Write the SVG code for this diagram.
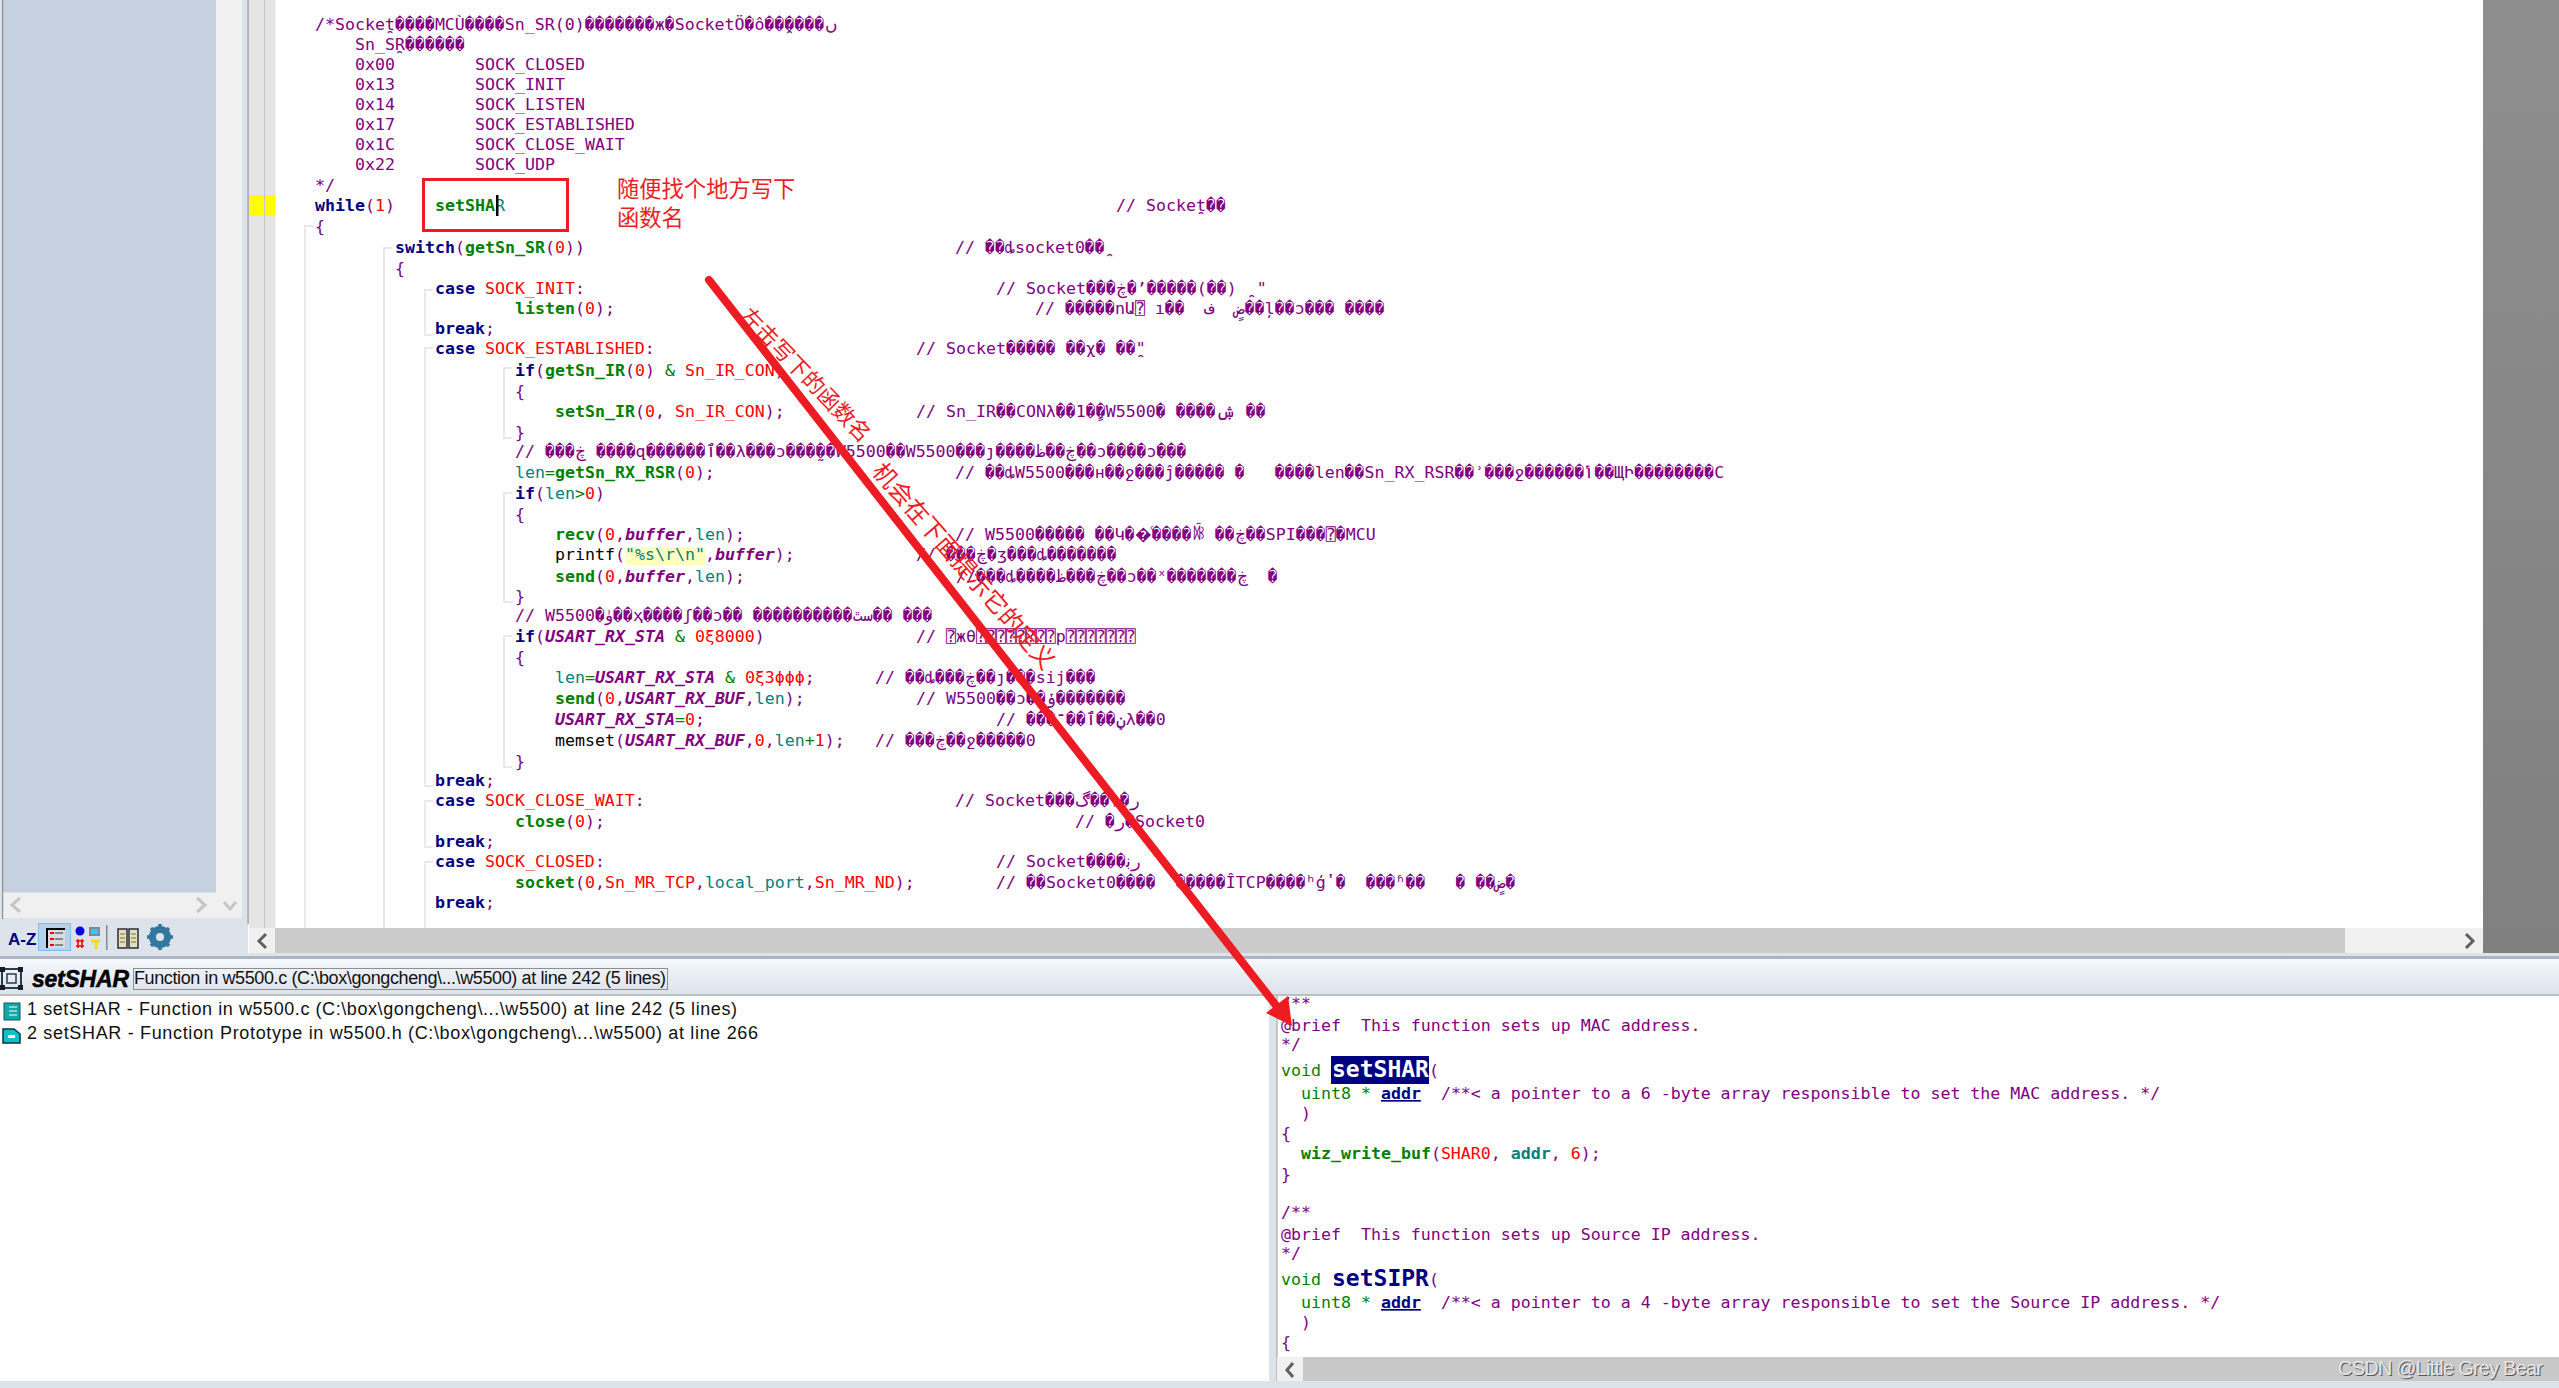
<svg xmlns="http://www.w3.org/2000/svg" width="2559" height="1388" viewBox="0 0 2559 1388">
<defs>
<linearGradient id="hdr" x1="0" y1="0" x2="0" y2="1"><stop offset="0" stop-color="#f5f8fc"/><stop offset="1" stop-color="#dbe2ea"/></linearGradient>
<linearGradient id="side" x1="0" y1="0" x2="0" y2="1"><stop offset="0" stop-color="#8e8e8e"/><stop offset="1" stop-color="#808080"/></linearGradient>
</defs>
<style>
text{white-space:pre}
.t{font-family:"DejaVu Sans Mono","Liberation Mono",monospace;font-size:16.6px;fill:#800080;unicode-bidi:bidi-override;direction:ltr}
.k{fill:#000080;font-weight:bold}
.f{fill:#008000;font-weight:bold}
.m{fill:#ff0000}
.v{fill:#008080}
.o{fill:#008000}
.g{fill:#800080;font-weight:bold;font-style:italic}
.b{fill:#000000}
.d{fill:#000080}
.guide{stroke:#e2e2e2;stroke-width:1.5;fill:none}
.ui{font-family:"Liberation Sans",Arial,sans-serif;font-size:18px;fill:#111111}
.note{font-family:"Noto Sans CJK SC",sans-serif;fill:#ed1c24;font-weight:400}
.chev{fill:none;stroke-width:3}
</style>
<rect width="2559" height="1388" fill="#ffffff"/>
<g id="left-panel">
<rect x="0" y="0" width="248" height="957" fill="#dce3eb"/>
<rect x="3" y="0" width="213" height="892" fill="#c5d1de"/>
<rect x="216" y="0" width="26" height="918" fill="#f0f0f0"/>
<rect x="3" y="893" width="213" height="25" fill="#f0f0f0"/>
<rect x="2" y="0" width="1.2" height="919" fill="#8a8f96"/>
<rect x="247.5" y="0" width="1.2" height="924" fill="#8a8f96"/>
<path class="chev" stroke="#c6c6c6" d="M20 898l-8 7 8 7M197 898l8 7-8 7M224 902l6 7 6-7"/>
</g>
<g id="toolbar">
<text x="8" y="945" font-family="Liberation Sans,sans-serif" font-weight="bold" font-size="17" fill="#000080">A-Z</text>
<rect x="38.500" y="923.500" width="32" height="27" fill="#b4d2ec" stroke="#82bbee"/>
<path d="M46 928h19v20h-19z" fill="#d8dde2"/><path d="M46 928h19v2h-17v18h-2z" fill="#000"/>
<path d="M50 933h4M50 939h4M50 945h4" stroke="#f00" stroke-width="2"/><path d="M55 933h8M55 939h8M55 945h8" stroke="#888" stroke-width="2"/>
<circle cx="80" cy="931" r="4.500" fill="#0000e0"/>
<rect x="89" y="927" width="11" height="9" fill="#808890"/><rect x="91" y="929" width="7" height="5" fill="#22d4e0"/>
<path d="M78 939v9M82 939v9M76 941h8M76 946h8" stroke="#f00" stroke-width="1.500"/>
<path d="M91 941h9M96 941v8" stroke="#f0e000" stroke-width="2.500"/>
<rect x="106" y="925" width="1.500" height="25" fill="#888"/>
<path d="M118 929h9v19h-9zM129 929h9v19h-9z" fill="#e6e0b8" stroke="#2b2b3a" stroke-width="1.500"/>
<path d="M120 934h5M120 938h5M120 942h5M131 934h5M131 938h5M131 942h5" stroke="#9c9468" stroke-width="1.500"/>
<circle cx="160" cy="937" r="8" fill="none" stroke="#33779f" stroke-width="6"/>
<path d="M160 924v26M147 937h26M151 928l18 18M169 928l-18 18" stroke="#33779f" stroke-width="3.500"/>
<circle cx="160" cy="937" r="4" fill="#dce3eb"/>
</g>
<g id="editor-frame">
<rect x="249" y="0" width="26.500" height="928" fill="#e5e5e5"/>
<rect x="264" y="0" width="1" height="928" fill="#c4c4c4"/>
<rect x="249" y="195" width="15" height="21" fill="#ffff00"/><rect x="265" y="195" width="10.500" height="21" fill="#ffff00"/>
<rect x="2483" y="0" width="76" height="953" fill="url(#side)"/>
<rect x="249" y="928" width="26" height="25" fill="#f0f0f0"/>
<rect x="275" y="928" width="2070" height="25" fill="#cbcbcb"/>
<rect x="2345" y="928" width="138" height="25" fill="#f0f0f0"/>
<path class="chev" stroke="#606060" d="M266 934l-7 7 7 7M2466 934l7 7-7 7"/>
<rect x="0" y="953" width="2559" height="6" fill="#dce3eb"/>
<rect x="0" y="956" width="2559" height="3" fill="#aeb5c2"/>
<rect x="0" y="959" width="2559" height="36" fill="url(#hdr)"/>
<rect x="0" y="994.500" width="2559" height="1.200" fill="#a0a0a0"/>
<rect x="1269" y="996" width="8" height="385" fill="#dce3eb"/>
<rect x="1276.500" y="996" width="1" height="385" fill="#9a9a9a"/>
<rect x="1277" y="1357" width="26" height="24" fill="#f0f0f0"/>
<rect x="1303" y="1357" width="1256" height="24" fill="#c8c8c8"/>
<path class="chev" stroke="#606060" d="M1293 1363l-6 7 6 7"/>
<rect x="0" y="1381" width="2559" height="7" fill="#dce3eb"/>
</g>
<g id="indent-guides">
<path class="guide" d="M313 226h-8v702M392 248h-8v680M433 290h-8v45h8M433 348h-8v438h8M433 801h-8v46h8M433 862h-8v66M512 368h-8v70h8M512 493h-8v109h8M512 636h-8v131h8"/>
</g>
<g id="code-editor">
<rect x="625" y="547" width="80" height="18" fill="#ffffc0"/>
<text class="t" x="315" y="30">/*Socket̯����MCÙ����Sn_SR(0)�������ж�SocketÖ�ô��̯����ں</text>
<text class="t" x="355" y="50">Sn_SR̯������</text>
<text class="t" x="355" y="70">0x00</text><text class="t" x="475" y="70">SOCK_CLOSED</text>
<text class="t" x="355" y="90">0x13</text><text class="t" x="475" y="90">SOCK_INIT</text>
<text class="t" x="355" y="110">0x14</text><text class="t" x="475" y="110">SOCK_LISTEN</text>
<text class="t" x="355" y="130">0x17</text><text class="t" x="475" y="130">SOCK_ESTABLISHED</text>
<text class="t" x="355" y="150">0x1C</text><text class="t" x="475" y="150">SOCK_CLOSE_WAIT</text>
<text class="t" x="355" y="170">0x22</text><text class="t" x="475" y="170">SOCK_UDP</text>
<text class="t" x="315" y="191">*/</text>
<text class="t" x="315" y="211"><tspan class="k">while</tspan>(<tspan class="m">1</tspan>)</text>
<text class="t" x="435" y="211"><tspan class="f">setSHA</tspan><tspan class="v">R</tspan></text>
<rect x="496" y="195" width="2.500" height="21" fill="#000"/>
<text class="t" x="1116" y="211">// Socket̯��</text>
<text class="t" x="315" y="232">{</text>
<text class="t" x="395" y="253"><tspan class="k">switch</tspan>(<tspan class="f">getSn_SR</tspan>(<tspan class="m">0</tspan>))</text>
<text class="t" x="955" y="253">// ��ȡsocket0��̯</text>
<text class="t" x="395" y="274">{</text>
<text class="t" x="435" y="294"><tspan class="k">case</tspan> <tspan class="m">SOCK_INIT</tspan>:</text>
<text class="t" x="996" y="294">// Socket���ڿ�’�����(��)  ̯"</text>
<text class="t" x="515" y="314"><tspan class="f">listen</tspan>(<tspan class="m">0</tspan>);</text>
<text class="t" x="1035" y="314">// �����nԱ⍰ ı��  ﻑ  ضٍ��ļ��ɔ��� ����</text>
<text class="t" x="435" y="334"><tspan class="k">break</tspan>;</text>
<text class="t" x="435" y="354"><tspan class="k">case</tspan> <tspan class="m">SOCK_ESTABLISHED</tspan>:</text>
<text class="t" x="916" y="354">// Socket����� ��χ� ��̯"</text>
<text class="t" x="515" y="376"><tspan class="k">if</tspan>(<tspan class="f">getSn_IR</tspan>(<tspan class="m">0</tspan>) <tspan class="o">&amp;</tspan> <tspan class="m">Sn_IR_CON</tspan>)</text>
<text class="t" x="515" y="397">{</text>
<text class="t" x="555" y="417"><tspan class="f">setSn_IR</tspan>(<tspan class="m">0</tspan>, <tspan class="m">Sn_IR_CON</tspan>);</text>
<text class="t" x="916" y="417">// Sn_IR��CONλ��1��ٍW5500� ����ۺ ��</text>
<text class="t" x="515" y="438">}</text>
<text class="t" x="515" y="457">// ���ڿ ����զ������ٱ��λ���ɔ���̰��W5500��W5500���ȷ����ظ��ڿ��ɔ����ɔ���</text>
<text class="t" x="515" y="478"><tspan class="v">len</tspan><tspan class="o">=</tspan><tspan class="f">getSn_RX_RSR</tspan>(<tspan class="m">0</tspan>);</text>
<text class="t" x="955" y="478">// ��ȡW5500���н��ջ���ĵ����� �   ����len��Sn_RX_RSR��ʾ���ջ������ݴ��ЩԻ��������C</text>
<text class="t" x="515" y="499"><tspan class="k">if</tspan>(<tspan class="v">len</tspan><tspan class="o">&gt;</tspan><tspan class="m">0</tspan>)</text>
<text class="t" x="515" y="520">{</text>
<text class="t" x="555" y="540"><tspan class="f">recv</tspan>(<tspan class="m">0</tspan>,<tspan class="g">buffer</tspan>,<tspan class="v">len</tspan>);</text>
<text class="t" x="955" y="540">// W5500����� ��Կ��ͨ����ꐼ ��ڿ��SPI���⍰�MCU</text>
<text class="t" x="555" y="560"><tspan class="b">printf</tspan>(<tspan class="v">"%s\r\n"</tspan>,<tspan class="g">buffer</tspan>);</text>
<text class="t" x="916" y="560">// ���ڿ�ʒ���ȡ�������</text>
<text class="t" x="555" y="582"><tspan class="f">send</tspan>(<tspan class="m">0</tspan>,<tspan class="g">buffer</tspan>,<tspan class="v">len</tspan>);</text>
<text class="t" x="956" y="582">//���ȡ����ظ���ڿ��ɔ��ˣ�������ڿ  �</text>
<text class="t" x="515" y="602">}</text>
<text class="t" x="515" y="621">// W5500�ۈ��ҳ����ʃ��ɔ�� ����������ٿس�� ���</text>
<text class="t" x="515" y="642"><tspan class="k">if</tspan>(<tspan class="g">USART_RX_STA</tspan> <tspan class="o">&amp;</tspan> <tspan class="m">0ξ8000</tspan>)</text>
<text class="t" x="916" y="642">// ⍰жθ⍰⍰⍰⍰⍰⍰⍰⍰p⍰⍰⍰⍰⍰⍰⍰</text>
<text class="t" x="515" y="663">{</text>
<text class="t" x="555" y="683"><tspan class="v">len</tspan><tspan class="o">=</tspan><tspan class="g">USART_RX_STA</tspan> <tspan class="o">&amp;</tspan> <tspan class="m">0ξ3ϕϕϕ</tspan>;</text>
<text class="t" x="875" y="683">// ��ȡ���ڿ��ȷ���sij���</text>
<text class="t" x="555" y="704"><tspan class="f">send</tspan>(<tspan class="m">0</tspan>,<tspan class="g">USART_RX_BUF</tspan>,<tspan class="v">len</tspan>);</text>
<text class="t" x="916" y="704">// W5500��ɔ��ݸ�������</text>
<text class="t" x="555" y="725"><tspan class="g">USART_RX_STA</tspan><tspan class="o">=</tspan><tspan class="m">0</tspan>;</text>
<text class="t" x="996" y="725">// ���־��ٱ��ڼλ��0</text>
<text class="t" x="555" y="746"><tspan class="b">memset</tspan>(<tspan class="g">USART_RX_BUF</tspan>,<tspan class="m">0</tspan>,<tspan class="v">len</tspan><tspan class="o">+</tspan><tspan class="m">1</tspan>);</text>
<text class="t" x="875" y="746">// ���ڿ��ջ�����0</text>
<text class="t" x="515" y="767">}</text>
<text class="t" x="435" y="786"><tspan class="k">break</tspan>;</text>
<text class="t" x="435" y="806"><tspan class="k">case</tspan> <tspan class="m">SOCK_CLOSE_WAIT</tspan>:</text>
<text class="t" x="955" y="806">// Socket���ڰ��ȴ�ر</text>
<text class="t" x="515" y="827"><tspan class="f">close</tspan>(<tspan class="m">0</tspan>);</text>
<text class="t" x="1075" y="827">// �ر�Socket0</text>
<text class="t" x="435" y="847"><tspan class="k">break</tspan>;</text>
<text class="t" x="435" y="867"><tspan class="k">case</tspan> <tspan class="m">SOCK_CLOSED</tspan>:</text>
<text class="t" x="996" y="867">// Socket����ڹر</text>
<text class="t" x="515" y="888"><tspan class="f">socket</tspan>(<tspan class="m">0</tspan>,<tspan class="m">Sn_MR_TCP</tspan>,<tspan class="v">local_port</tspan>,<tspan class="m">Sn_MR_ND</tspan>);</text>
<text class="t" x="996" y="888">// ��Socket0����  �����ÎTCP����ʰģʽ�  ���ʱ��   � ��ضٍ�</text>
<text class="t" x="435" y="908"><tspan class="k">break</tspan>;</text>
</g>
<g id="symbol-bar">
<rect x="2" y="969" width="19" height="19" fill="none" stroke="#2a3a4a" stroke-width="2"/>
<path d="M0 967h5v5h-5zM18 967h5v5h-5zM0 985h5v5h-5zM18 985h5v5h-5z" fill="#1a1a2a"/>
<rect x="7" y="974" width="9" height="9" fill="none" stroke="#2a3a4a" stroke-width="1.500"/>
<text x="32" y="987" font-family="Liberation Sans,sans-serif" font-weight="bold" font-style="italic" font-size="23" fill="#000" stroke="#000" stroke-width="0.500" textLength="97">setSHAR</text>
<rect x="133.500" y="968.500" width="534" height="21" fill="none" stroke="#8f8f8f"/>
<text class="ui" x="134" y="984" textLength="532">Function in w5500.c (C:\box\gongcheng\...\w5500) at line 242 (5 lines)</text>
</g>
<g id="references">
<rect x="4" y="1003" width="16" height="17" fill="#12a8a8" stroke="#0a5a5a"/><path d="M9 1007h8M9 1011h8M9 1015h8" stroke="#fff"/>
<path d="M3 1029h11l6 5v9h-17z" fill="#10c0c8" stroke="#04343c" stroke-width="1.500"/><rect x="8" y="1035" width="7" height="3" fill="#fff"/>
<text class="ui" x="27" y="1015" textLength="710">1 setSHAR - Function in w5500.c (C:\box\gongcheng\...\w5500) at line 242 (5 lines)</text>
<text class="ui" x="27" y="1039" textLength="731">2 setSHAR - Function Prototype in w5500.h (C:\box\gongcheng\...\w5500) at line 266</text>
</g>
<g id="context-window">
<rect x="1331" y="1056" width="98" height="28" fill="#000080"/>
<text class="t" x="1281" y="1009">/**</text>
<text class="t" x="1281" y="1031">@brief  This function sets up MAC address.</text>
<text class="t" x="1281" y="1050">*/</text>
<text class="t" x="1281" y="1076"><tspan class="o">void</tspan></text>
<text x="1332" y="1077" font-family="DejaVu Sans Mono,monospace" font-weight="bold" font-size="23" fill="#ffffff">setSHAR</text>
<text class="t" x="1429" y="1076">(</text>
<text class="t" x="1301" y="1099"><tspan class="o">uint8 *</tspan> <tspan class="k" text-decoration="underline">addr</tspan>  /**&lt; a pointer to a 6 -byte array responsible to set the MAC address. */</text>
<text class="t" x="1301" y="1119">)</text>
<text class="t" x="1281" y="1139">{</text>
<text class="t" x="1301" y="1159"><tspan class="f">wiz_write_buf</tspan>(<tspan class="m">SHAR0</tspan>, <tspan class="v" font-weight="bold">addr</tspan>, <tspan class="m">6</tspan>);</text>
<text class="t" x="1281" y="1180">}</text>
<text class="t" x="1281" y="1218">/**</text>
<text class="t" x="1281" y="1240">@brief  This function sets up Source IP address.</text>
<text class="t" x="1281" y="1259">*/</text>
<text class="t" x="1281" y="1285"><tspan class="o">void</tspan></text>
<text x="1332" y="1286" font-family="DejaVu Sans Mono,monospace" font-weight="bold" font-size="23" fill="#000080">setSIPR</text>
<text class="t" x="1429" y="1285">(</text>
<text class="t" x="1301" y="1308"><tspan class="o">uint8 *</tspan> <tspan class="k" text-decoration="underline">addr</tspan>  /**&lt; a pointer to a 4 -byte array responsible to set the Source IP address. */</text>
<text class="t" x="1301" y="1328">)</text>
<text class="t" x="1281" y="1348">{</text>
</g>
<g id="connectors">
<line x1="709" y1="280" x2="1278" y2="1008" stroke="#ed1c24" stroke-width="8" stroke-linecap="round"/>
<polygon points="1266,1013 1292,1026 1288,996" fill="#ed1c24"/>
</g>
<g id="annotations">
<rect x="423.500" y="179.500" width="144" height="51" fill="none" stroke="#ed1c24" stroke-width="3"/>
<text class="note" x="617" y="197" font-size="22.300">随便找个地方写下</text>
<text class="note" x="617" y="226" font-size="22.300">函数名</text>
<text class="note" font-size="22" transform="translate(739,317) rotate(46)">左击写下的函数名</text>
<text class="note" font-size="24" transform="translate(871,472) rotate(49)">机会在下面提示它的定义</text>
</g>
<g id="watermark">
<text x="2339" y="1376" font-family="Liberation Sans,sans-serif" font-size="20" fill="#555555" textLength="205">CSDN @Little Grey Bear</text>
<text x="2338" y="1375" font-family="Liberation Sans,sans-serif" font-size="20" fill="#e6e6e6" textLength="205">CSDN @Little Grey Bear</text>
</g>
</svg>
